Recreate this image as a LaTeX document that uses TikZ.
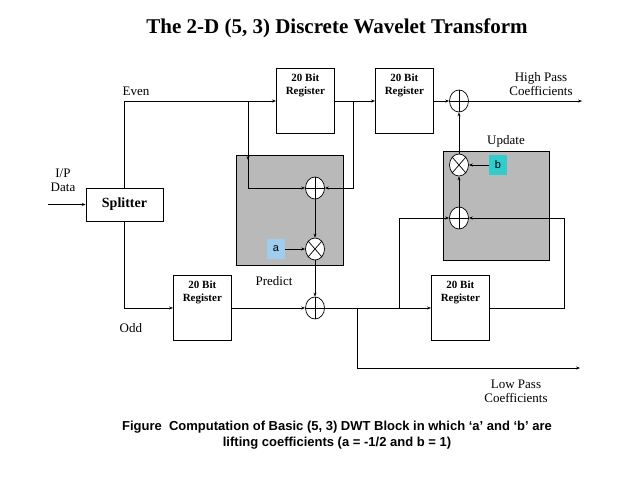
\documentclass[tikz,border=0pt]{standalone}
\usepackage{fontspec}
\setmainfont{Liberation Serif}
\newfontfamily\capfont{Liberation Sans}
\usetikzlibrary{arrows.meta,calc,shapes.geometric}
\definecolor{acol}{HTML}{9FCDF0}
\definecolor{bcol}{HTML}{33CCCC}
\begin{document}
\begin{tikzpicture}[x=1pt,y=-1pt,
  every path/.style={line width=0.7pt},
  reg/.style={draw,fill=white,minimum width=58pt,minimum height=65pt,anchor=north west,inner sep=0pt},
  grey/.style={draw,fill=gray!55},
  lbl/.style={font=\fontsize{13}{14}\selectfont},
  arr/.style={-{Stealth[length=4pt,width=3pt]}},
  coef/.style={minimum width=18pt,minimum height=20pt,inner sep=0pt,font=\fontsize{11}{12}\capfont}]
\useasboundingbox (0,0) rectangle (638,478);
\node[font=\fontsize{21}{24}\bfseries\selectfont] at (337,28) {The 2-D (5, 3) Discrete Wavelet Transform};
% grey blocks
\draw[grey] (236,155) rectangle (343,265);
\draw[grey] (443,151) rectangle (549,260);
% registers
\foreach \n/\x/\y in {r1/276/68, r2/375/68, r3/173/275, r4/431/275}{
  \node[reg] (\n) at (\x,\y) {};
  \node[font=\fontsize{11}{13}\bfseries\selectfont,align=center,anchor=north] at ($(\n.north)+(0,2)$) {20 Bit\\Register};
}
\node[draw,minimum width=77pt,minimum height=33pt,inner sep=0pt,font=\fontsize{14}{16}\bfseries\selectfont] (sp) at (124.5,204.5) {Splitter};
% adders/multipliers
\foreach \n/\x/\y in {a1/315/188, m1/315/249, a2/315/308, a3/459/101, m2/459/165, a4/459/218}{
  \node[draw,ellipse,fill=white,minimum width=19pt,minimum height=22pt,inner sep=0pt] (\n) at (\x,\y) {};
}
\foreach \n in {a1,a2,a3,a4}{\draw (\n.north)--(\n.south) (\n.west)--(\n.east);}
\foreach \n in {m1,m2}{\draw (\n.north west)--(\n.south east) (\n.north east)--(\n.south west);}
\node[coef,fill=acol] (ca) at (276,249) {a};
\node[coef,fill=bcol] (cb) at (498,165) {b};
% labels
\node[lbl,anchor=south west] at (119,99) {Even};
\node[lbl,anchor=north west] at (116,320) {Odd};
\node[lbl,align=center] at (63,180) {I/P\\Data};
\node[lbl] at (274,281) {Predict};
\node[lbl] at (506,141) {Update};
\node[lbl,align=center] at (541,84) {High Pass\\Coefficients};
\node[lbl,align=center] at (516,391) {Low Pass\\Coefficients};
\node[font=\fontsize{13}{16}\bfseries\capfont,align=center] at (337,435) {Figure\ \ Computation of Basic (5, 3) DWT Block in which ‘a’ and ‘b’ are\\lifting coefficients (a = -1/2 and b = 1)};
% connectors
\coordinate (in) at (48,204.5);
\draw[arr] (in) -- (sp.west);
\draw[arr] (sp.north) |- (r1.west |- 0,101);
\draw[arr] (sp.south) |- (r3.west |- 0,308);
\draw[arr] (248,101) |- (a1.west);
\draw[arr] (248,101) -- (248,160);
\draw[arr] (r1.east |- 0,101) -- (r2.west |- 0,101);
\draw[arr] (353,101) |- (a1.east);
\draw[arr] (a1.south) -- (m1.north);
\draw[arr] (ca.east) -- (m1.west);
\draw[arr] (m1.south) -- (a2.north);
\draw[arr] (r3.east |- 0,308) -- (a2.west);
\draw[arr] (a2.east) -- (r4.west |- 0,308);
\draw[arr] (357,308) |- (580,368);
\draw[arr] (399,308) |- (a4.west);
\draw[arr] (r4.east |- 0,308) -- (564,308) |- (a4.east);
\draw[arr] (a4.north) -- (m2.south);
\draw[arr] (cb.west) -- (m2.east);
\draw[arr] (m2.north) -- (a3.south);
\draw[arr] (r2.east |- 0,101) -- (a3.west);
\draw[arr] (a3.east) -- (582,101);
\end{tikzpicture}
\end{document}
